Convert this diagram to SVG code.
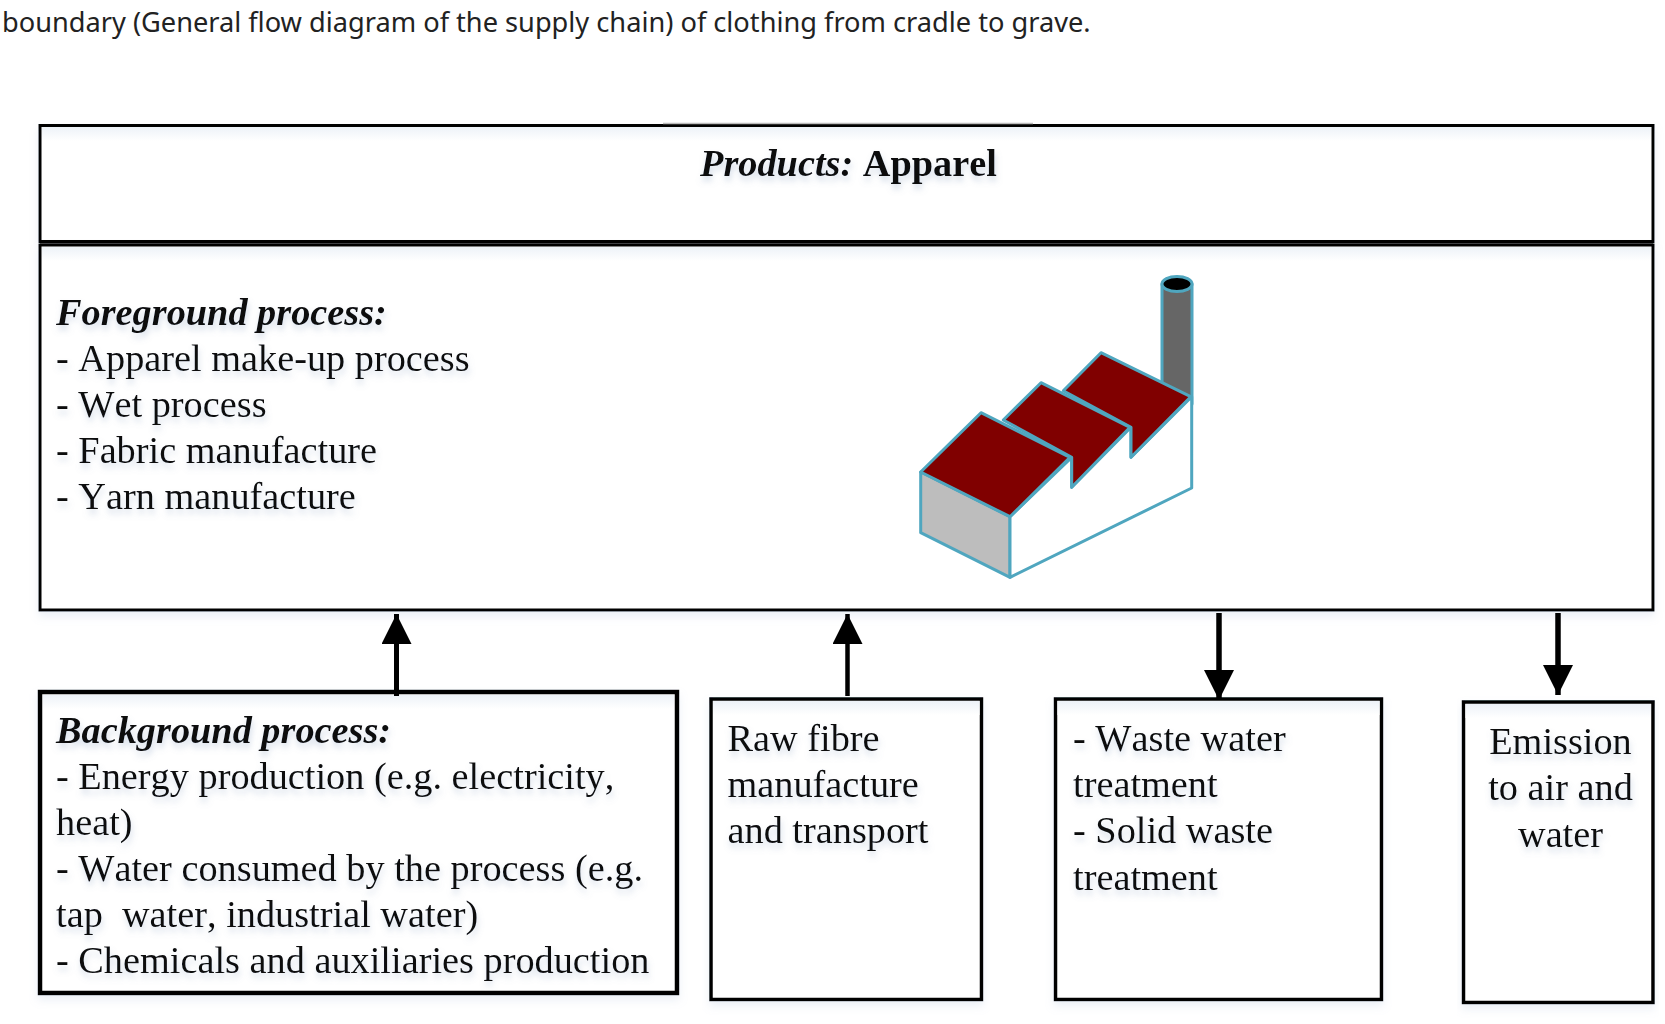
<svg xmlns="http://www.w3.org/2000/svg" width="1665" height="1024" viewBox="0 0 1665 1024">
<defs>
<filter id="soft" x="-5%" y="-20%" width="110%" height="150%"><feDropShadow dx="1" dy="5" stdDeviation="3" flood-color="#7a94b8" flood-opacity="0.32"/></filter>
<filter id="boxglow" x="-3%" y="-5%" width="106%" height="112%"><feDropShadow dx="0" dy="5" stdDeviation="4" flood-color="#9db4d2" flood-opacity="0.2"/></filter>
<linearGradient id="inner" x1="0" y1="0" x2="0" y2="1"><stop offset="0" stop-color="#edf2f8"/><stop offset="1" stop-color="#fff"/></linearGradient>
<marker id="arrow" markerUnits="userSpaceOnUse" markerWidth="30" markerHeight="30" refX="28" refY="14" viewBox="0 0 28 28" orient="auto"><path d="M0 0L28 14L0 28Z" fill="#000"/></marker>
</defs>
<style>
text{font-family:"Liberation Serif","Times New Roman",serif;font-size:38.300px;fill:#111;font-kerning:none}
.h{font-style:italic;font-weight:700}
.cap{font-family:"Noto Sans","Open Sans",sans-serif;font-size:27.200px;fill:#222;font-kerning:auto}
.box{fill:#fff;stroke:#000}
.shade{fill:url(#inner)}
.f{stroke:#4fa6bf;stroke-width:3;stroke-linejoin:round}
.ln{stroke:#000;fill:none}
</style>
<rect width="1665" height="1024" fill="#fff"/>
<text class="cap" x="2" y="32">boundary (General flow diagram of the supply chain) of clothing from cradle to grave.</text>
<g id="products"><rect class="box" x="40" y="125.500" width="1613" height="116" stroke-width="3" filter="url(#boxglow)"/>
<rect class="shade" x="42" y="127" width="1609" height="14"/>
<path d="M663 123.500H1033" stroke="#bbb" stroke-width="1.500" fill="none"/>
<g filter="url(#soft)"><text x="700" y="176" class="h">Products: <tspan font-style="normal">Apparel</tspan></text></g></g>
<g id="foreground"><rect class="box" x="40" y="245" width="1613" height="365" stroke-width="3" filter="url(#boxglow)"/>
<rect class="shade" x="42" y="247" width="1609" height="14"/>
<path d="M40 241.800H1653" stroke="#000" stroke-width="3.400" fill="none"/>
<g filter="url(#soft)"><text class="h" x="56" y="325">Foreground process:</text>
<text x="56" y="371">- Apparel make-up process</text>
<text x="56" y="417">- Wet process</text>
<text x="56" y="463">- Fabric manufacture</text>
<text x="56" y="509">- Yarn manufacture</text></g></g>
<g id="factory">
<rect class="f" x="1162" y="284" width="30" height="120" fill="#666"/>
<ellipse class="f" cx="1177" cy="284" rx="15" ry="7.500" fill="#000"/>
<path class="f" fill="#bdbdbd" d="M920.700 472L1010 516.700V577.300L920.700 532.700Z"/>
<path class="f" fill="#fff" d="M1010 516.700L1071.700 457.300V487.300L1131 427.300V457.300L1191.700 396.700V488L1010 577.300Z"/>
<path class="f" fill="#800000" d="M1063.300 390.700L1101 352.700L1190.700 396.700L1131 457.300V427.300Z"/>
<path class="f" fill="#800000" d="M1003.300 420L1041 382.700L1130 427.300L1071.700 487.300V457.300Z"/>
<path class="f" fill="#800000" d="M920.700 472L981 412.700L1070 457.300L1010 516.700Z"/>
</g>
<g id="background"><rect class="box" x="40" y="692" width="637" height="301" stroke-width="4.500" filter="url(#boxglow)"/>
<rect class="shade" x="43" y="695" width="631" height="14"/>
<g filter="url(#soft)"><text class="h" x="56" y="743">Background process:</text>
<text x="56" y="789">- Energy production (e.g. electricity,</text>
<text x="56" y="835">heat)</text>
<text x="56" y="881">- Water consumed by the process (e.g.</text>
<text x="56" y="927" xml:space="preserve">tap  water, industrial water)</text>
<text x="56" y="973">- Chemicals and auxiliaries production</text></g></g>
<g id="raw"><rect class="box" x="711" y="699" width="270.500" height="300.500" stroke-width="3.500" filter="url(#boxglow)"/>
<rect class="shade" x="713" y="701" width="266.500" height="14"/>
<g filter="url(#soft)"><text x="727.500" y="751">Raw fibre</text><text x="727.500" y="797">manufacture</text><text x="727.500" y="843">and transport</text></g></g>
<g id="waste"><rect class="box" x="1055.500" y="699" width="326" height="300.500" stroke-width="3.500" filter="url(#boxglow)"/>
<rect class="shade" x="1057.500" y="701" width="322" height="14"/>
<g filter="url(#soft)"><text x="1073" y="751">- Waste water</text><text x="1073" y="797">treatment</text><text x="1073" y="843">- Solid waste</text><text x="1073" y="890">treatment</text></g></g>
<g id="emission"><rect class="box" x="1463.500" y="702" width="189.500" height="300.500" stroke-width="3.500" filter="url(#boxglow)"/>
<rect class="shade" x="1465.500" y="704" width="185.500" height="14"/>
<g filter="url(#soft)" text-anchor="middle"><text x="1560.500" y="754">Emission</text><text x="1560.500" y="800">to air and</text><text x="1560.500" y="847">water</text></g></g>
<g id="connectors">
<path class="ln" stroke-width="5" d="M396.500 696V614" marker-end="url(#arrow)"/>
<path class="ln" stroke-width="4.500" d="M847.500 696V614" marker-end="url(#arrow)"/>
<path class="ln" stroke-width="5.500" d="M1219 613V700" marker-end="url(#arrow)"/>
<path class="ln" stroke-width="5.500" d="M1558 613V695" marker-end="url(#arrow)"/>
</g>
</svg>
